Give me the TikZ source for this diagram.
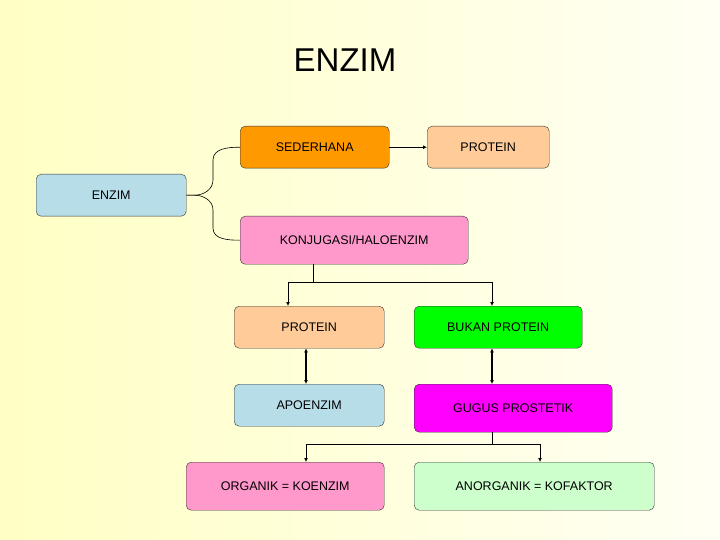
\documentclass[tikz,border=0pt]{standalone}
\usepackage{fontspec}
\setmainfont{Liberation Sans}
\usetikzlibrary{arrows.meta}
\definecolor{bgL}{HTML}{FFFFC4}
\definecolor{bgR}{HTML}{FFFFF4}
\definecolor{orangeF}{HTML}{FF9900}
\definecolor{peach}{HTML}{FFCC99}
\definecolor{lblue}{HTML}{B7DEE8}
\definecolor{pinkF}{HTML}{FF99CC}
\definecolor{greenF}{HTML}{00FF00}
\definecolor{magF}{HTML}{FF00FF}
\definecolor{mint}{HTML}{CCFFCC}
\tikzset{
  box/.style={draw=black!80, rounded corners=5pt, font=\fontsize{12.5}{14}\selectfont, inner sep=0pt, anchor=north west},
  conn/.style={line width=0.6pt},
  arr/.style={line width=0.9pt, -{Latex[length=4pt,width=4pt]}},
  darr/.style={line width=1.4pt, {Latex[length=4pt,width=4pt]}-{Latex[length=4pt,width=4pt]}}
}
\begin{document}
\begin{tikzpicture}[x=1pt,y=-1pt]
\shade[left color=bgL, right color=bgR] (0,0) rectangle (720,540);
\useasboundingbox (0,0) rectangle (720,540);
\node[font=\fontsize{33}{38}\selectfont] (title) at (345,60) {ENZIM};
\node[box, fill=orangeF, minimum width=149pt, minimum height=42pt] (sed) at (240,126) {SEDERHANA};
\node[box, fill=peach, minimum width=122pt, minimum height=42pt] (prot1) at (427,126) {PROTEIN};
\node[box, fill=lblue, minimum width=150pt, minimum height=42pt] (enz) at (36,174) {ENZIM};
\node[box, fill=pinkF, minimum width=228pt, minimum height=48pt] (konj) at (240,216) {KONJUGASI/HALOENZIM};
\node[box, fill=peach, minimum width=150pt, minimum height=42pt] (prot2) at (234,306) {PROTEIN};
\node[box, fill=greenF, minimum width=168pt, minimum height=42pt] (bukan) at (414,306) {BUKAN PROTEIN};
\node[box, fill=lblue, minimum width=150pt, minimum height=42pt] (apo) at (234,384) {APOENZIM};
\node[box, fill=magF, minimum width=198pt, minimum height=48pt] (gugus) at (414,384) {GUGUS PROSTETIK};
\node[box, fill=pinkF, minimum width=198pt, minimum height=48pt] (org) at (186,462) {ORGANIK = KOENZIM};
\node[box, fill=mint, minimum width=240pt, minimum height=48pt] (anorg) at (414,462) {ANORGANIK = KOFAKTOR};
% brace
\draw[conn] (enz.east) -- ++(8,0) to[out=0,in=-90] (213,180) -- (213,160) to[out=90,in=180] (sed.west);
\draw[conn] (enz.east) -- ++(8,0) to[out=0,in=90] (213,210) -- (213,228) to[out=-90,in=180] (konj.west);
\draw[arr] (sed.east) -- (prot1.west);
% konjugasi split
\coordinate (k1) at (313,282);
\draw[conn] (konj.south -| k1) -- (k1);
\draw[conn] (k1) -- (288,282) coordinate (kl);
\draw[conn] (k1) -- (492,282) coordinate (kr);
\draw[arr] (kl) -- (kl |- prot2.north);
\draw[arr] (kr) -- (kr |- bukan.north);
\draw[darr] (prot2.south -| 306,0) -- (apo.north -| 306,0);
\draw[darr] (bukan.south -| 492,0) -- (gugus.north -| 492,0);
\coordinate (g1) at (492,444);
\draw[conn] (gugus.south -| g1) -- (g1);
\draw[conn] (306,444) coordinate (gl) -- (540,444) coordinate (gr);
\draw[arr] (gl) -- (gl |- org.north);
\draw[arr] (gr) -- (gr |- anorg.north);
\end{tikzpicture}
\end{document}
